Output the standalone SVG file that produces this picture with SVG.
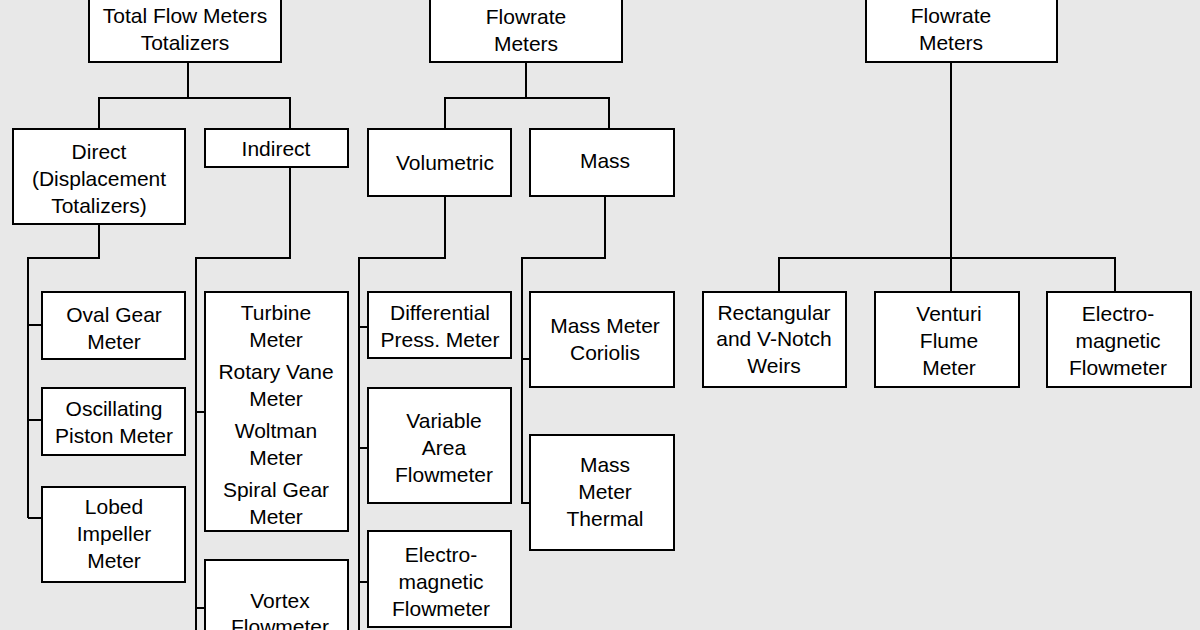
<svg xmlns="http://www.w3.org/2000/svg" width="1200" height="630" viewBox="0 0 1200 630">
<style>
.b{fill:#fff;stroke:#000;stroke-width:2}
.c{fill:none;stroke:#000;stroke-width:2}
text{font-family:"Liberation Sans",Arial,sans-serif;font-size:21px;text-anchor:middle;fill:#000}
</style>
<rect width="1200" height="630" fill="#e8e8e8"/>
<g id="connectors" class="c">
<path d="M188 62V98M99 129V98H290V129"/>
<path d="M526 62V98M445 129V98H609V129"/>
<path d="M99 224V258H28V518M28 325H42M28 420H42M28 518H42"/>
<path d="M290 167V258H196V630M196 412H205M196 608H205"/>
<path d="M445 196V258H359V630M359 327H368M359 448H368M359 582H368"/>
<path d="M605 196V258H522V503H530M522 359H530"/>
<path d="M951 62V258M779 292V258H1115V292M951 258V292"/>
</g>
<g id="n1"><rect class="b" x="89" y="-2" width="192" height="64"/><text x="185" y="23">Total Flow Meters</text><text x="185" y="50">Totalizers</text></g>
<g id="n2"><rect class="b" x="430" y="-2" width="192" height="64"/><text x="526" y="24">Flowrate</text><text x="526" y="51">Meters</text></g>
<g id="n3"><rect class="b" x="866" y="-2" width="191" height="64"/><text x="951" y="23">Flowrate</text><text x="951" y="50">Meters</text></g>
<g id="n4"><rect class="b" x="13" y="129" width="172" height="95"/><text x="99" y="159">Direct</text><text x="99" y="186">(Displacement</text><text x="99" y="213">Totalizers)</text></g>
<g id="n5"><rect class="b" x="205" y="129" width="143" height="38"/><text x="276" y="156">Indirect</text></g>
<g id="n6"><rect class="b" x="368" y="129" width="143" height="67"/><text x="445" y="170">Volumetric</text></g>
<g id="n7"><rect class="b" x="530" y="129" width="144" height="67"/><text x="605" y="168">Mass</text></g>
<g id="n8"><rect class="b" x="42" y="292" width="143" height="67"/><text x="114" y="322">Oval Gear</text><text x="114" y="349">Meter</text></g>
<g id="n9"><rect class="b" x="42" y="388" width="143" height="67"/><text x="114" y="416">Oscillating</text><text x="114" y="443">Piston  Meter</text></g>
<g id="n10"><rect class="b" x="42" y="487" width="143" height="95"/><text x="114" y="514">Lobed</text><text x="114" y="541">Impeller</text><text x="114" y="568">Meter</text></g>
<g id="n11"><rect class="b" x="205" y="292" width="143" height="239"/><text x="276" y="320">Turbine</text><text x="276" y="347">Meter</text><text x="276" y="379">Rotary Vane</text><text x="276" y="406">Meter</text><text x="276" y="438">Woltman</text><text x="276" y="465">Meter</text><text x="276" y="497">Spiral Gear</text><text x="276" y="524">Meter</text></g>
<g id="n12"><rect class="b" x="205" y="560" width="143" height="80"/><text x="280" y="608">Vortex</text><text x="280" y="634">Flowmeter</text></g>
<g id="n13"><rect class="b" x="368" y="292" width="143" height="66"/><text x="440" y="320">Differential</text><text x="440" y="347">Press. Meter</text></g>
<g id="n14"><rect class="b" x="368" y="388" width="143" height="115"/><text x="444" y="428">Variable</text><text x="444" y="455">Area</text><text x="444" y="482">Flowmeter</text></g>
<g id="n15"><rect class="b" x="368" y="531" width="143" height="96"/><text x="441" y="562">Electro-</text><text x="441" y="589">magnetic</text><text x="441" y="616">Flowmeter</text></g>
<g id="n16"><rect class="b" x="530" y="292" width="144" height="95"/><text x="605" y="333">Mass Meter</text><text x="605" y="360">Coriolis</text></g>
<g id="n17"><rect class="b" x="530" y="435" width="144" height="115"/><text x="605" y="472">Mass</text><text x="605" y="499">Meter</text><text x="605" y="526">Thermal</text></g>
<g id="n18"><rect class="b" x="703" y="292" width="143" height="95"/><text x="774" y="320">Rectangular</text><text x="774" y="346">and V-Notch</text><text x="774" y="373">Weirs</text></g>
<g id="n19"><rect class="b" x="875" y="292" width="144" height="95"/><text x="949" y="321">Venturi</text><text x="949" y="348">Flume</text><text x="949" y="375">Meter</text></g>
<g id="n20"><rect class="b" x="1047" y="292" width="144" height="95"/><text x="1118" y="321">Electro-</text><text x="1118" y="348">magnetic</text><text x="1118" y="375">Flowmeter</text></g>
</svg>
